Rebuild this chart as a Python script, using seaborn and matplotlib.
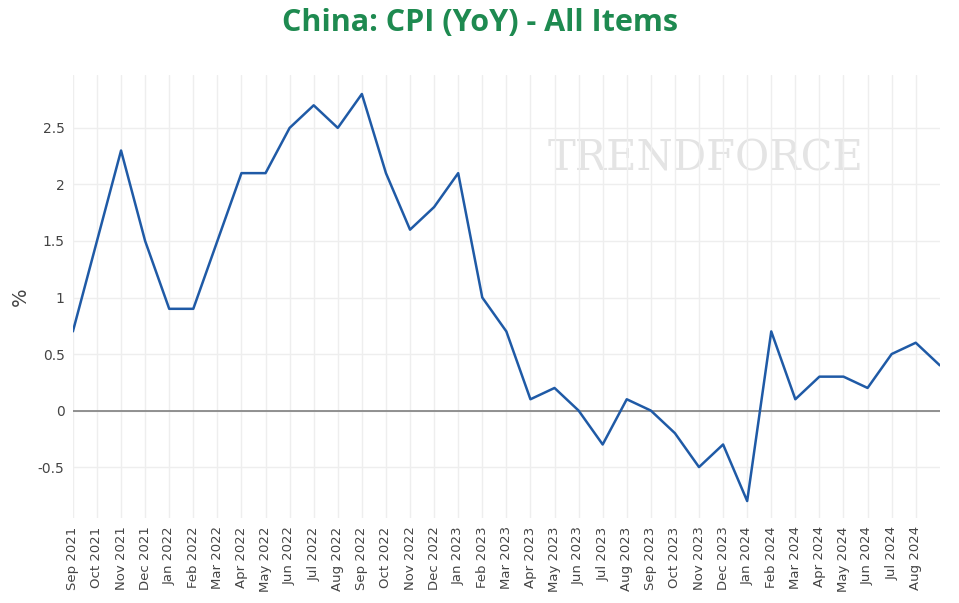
import matplotlib
matplotlib.use("Agg")
import matplotlib.pyplot as plt
import seaborn as sns
import pandas as pd

months = ["Sep 2021","Oct 2021","Nov 2021","Dec 2021","Jan 2022","Feb 2022","Mar 2022","Apr 2022","May 2022","Jun 2022","Jul 2022","Aug 2022","Sep 2022","Oct 2022","Nov 2022","Dec 2022","Jan 2023","Feb 2023","Mar 2023","Apr 2023","May 2023","Jun 2023","Jul 2023","Aug 2023","Sep 2023","Oct 2023","Nov 2023","Dec 2023","Jan 2024","Feb 2024","Mar 2024","Apr 2024","May 2024","Jun 2024","Jul 2024","Aug 2024","Sep 2024"]
cpi = [0.7,1.5,2.3,1.5,0.9,0.9,1.5,2.1,2.1,2.5,2.7,2.5,2.8,2.1,1.6,1.8,2.1,1.0,0.7,0.1,0.2,0.0,-0.3,0.1,0.0,-0.2,-0.5,-0.3,-0.8,0.7,0.1,0.3,0.3,0.2,0.5,0.6,0.4]
yticks = [-0.5,0,0.5,1,1.5,2,2.5]
ytick_labels = ["-0.5","0","0.5","1","1.5","2","2.5"]

df = pd.DataFrame({"x": range(len(months)), "cpi": cpi})
sns.set_style("white")
fig = plt.figure(figsize=(9.59,6.03), dpi=100)
ax = fig.add_axes([0.076,0.141,0.904,0.735])
ax.grid(True, color="#eeeeee", lw=1)
ax.axhline(0, color="#888888", lw=1.3, zorder=1)
sns.lineplot(data=df, x="x", y="cpi", ax=ax, color="#1f5aa6", lw=1.8, zorder=3)
ax.set_xlim(0, len(months)-1)
ax.set_ylim(-0.95, 2.97)
ax.set_xticks(range(len(months)-1))
ax.set_xticklabels(months[:-1], rotation=90, fontsize=9.5, color="#444444")
ax.set_yticks(yticks)
ax.set_yticklabels(ytick_labels, fontsize=10, color="#444444")
ax.tick_params(length=0, pad=6)
ax.set_xlabel("")
ax.set_ylabel("%", fontsize=14, color="#444444")
ax.yaxis.set_label_coords(-0.05, 0.5)
for s in ax.spines.values():
    s.set_visible(False)
ax.text(0.73, 0.81, "TRENDFORCE", transform=ax.transAxes, fontsize=30, color="#e4e4e4",
        family="DejaVu Serif", ha="center", va="center", zorder=0)
fig.text(0.5, 0.962, "China: CPI (YoY) - All Items", ha="center", va="center",
         fontsize=22, fontweight="bold", color="#1e8a50", family="Open Sans")
fig.savefig("out.png", dpi=100)
